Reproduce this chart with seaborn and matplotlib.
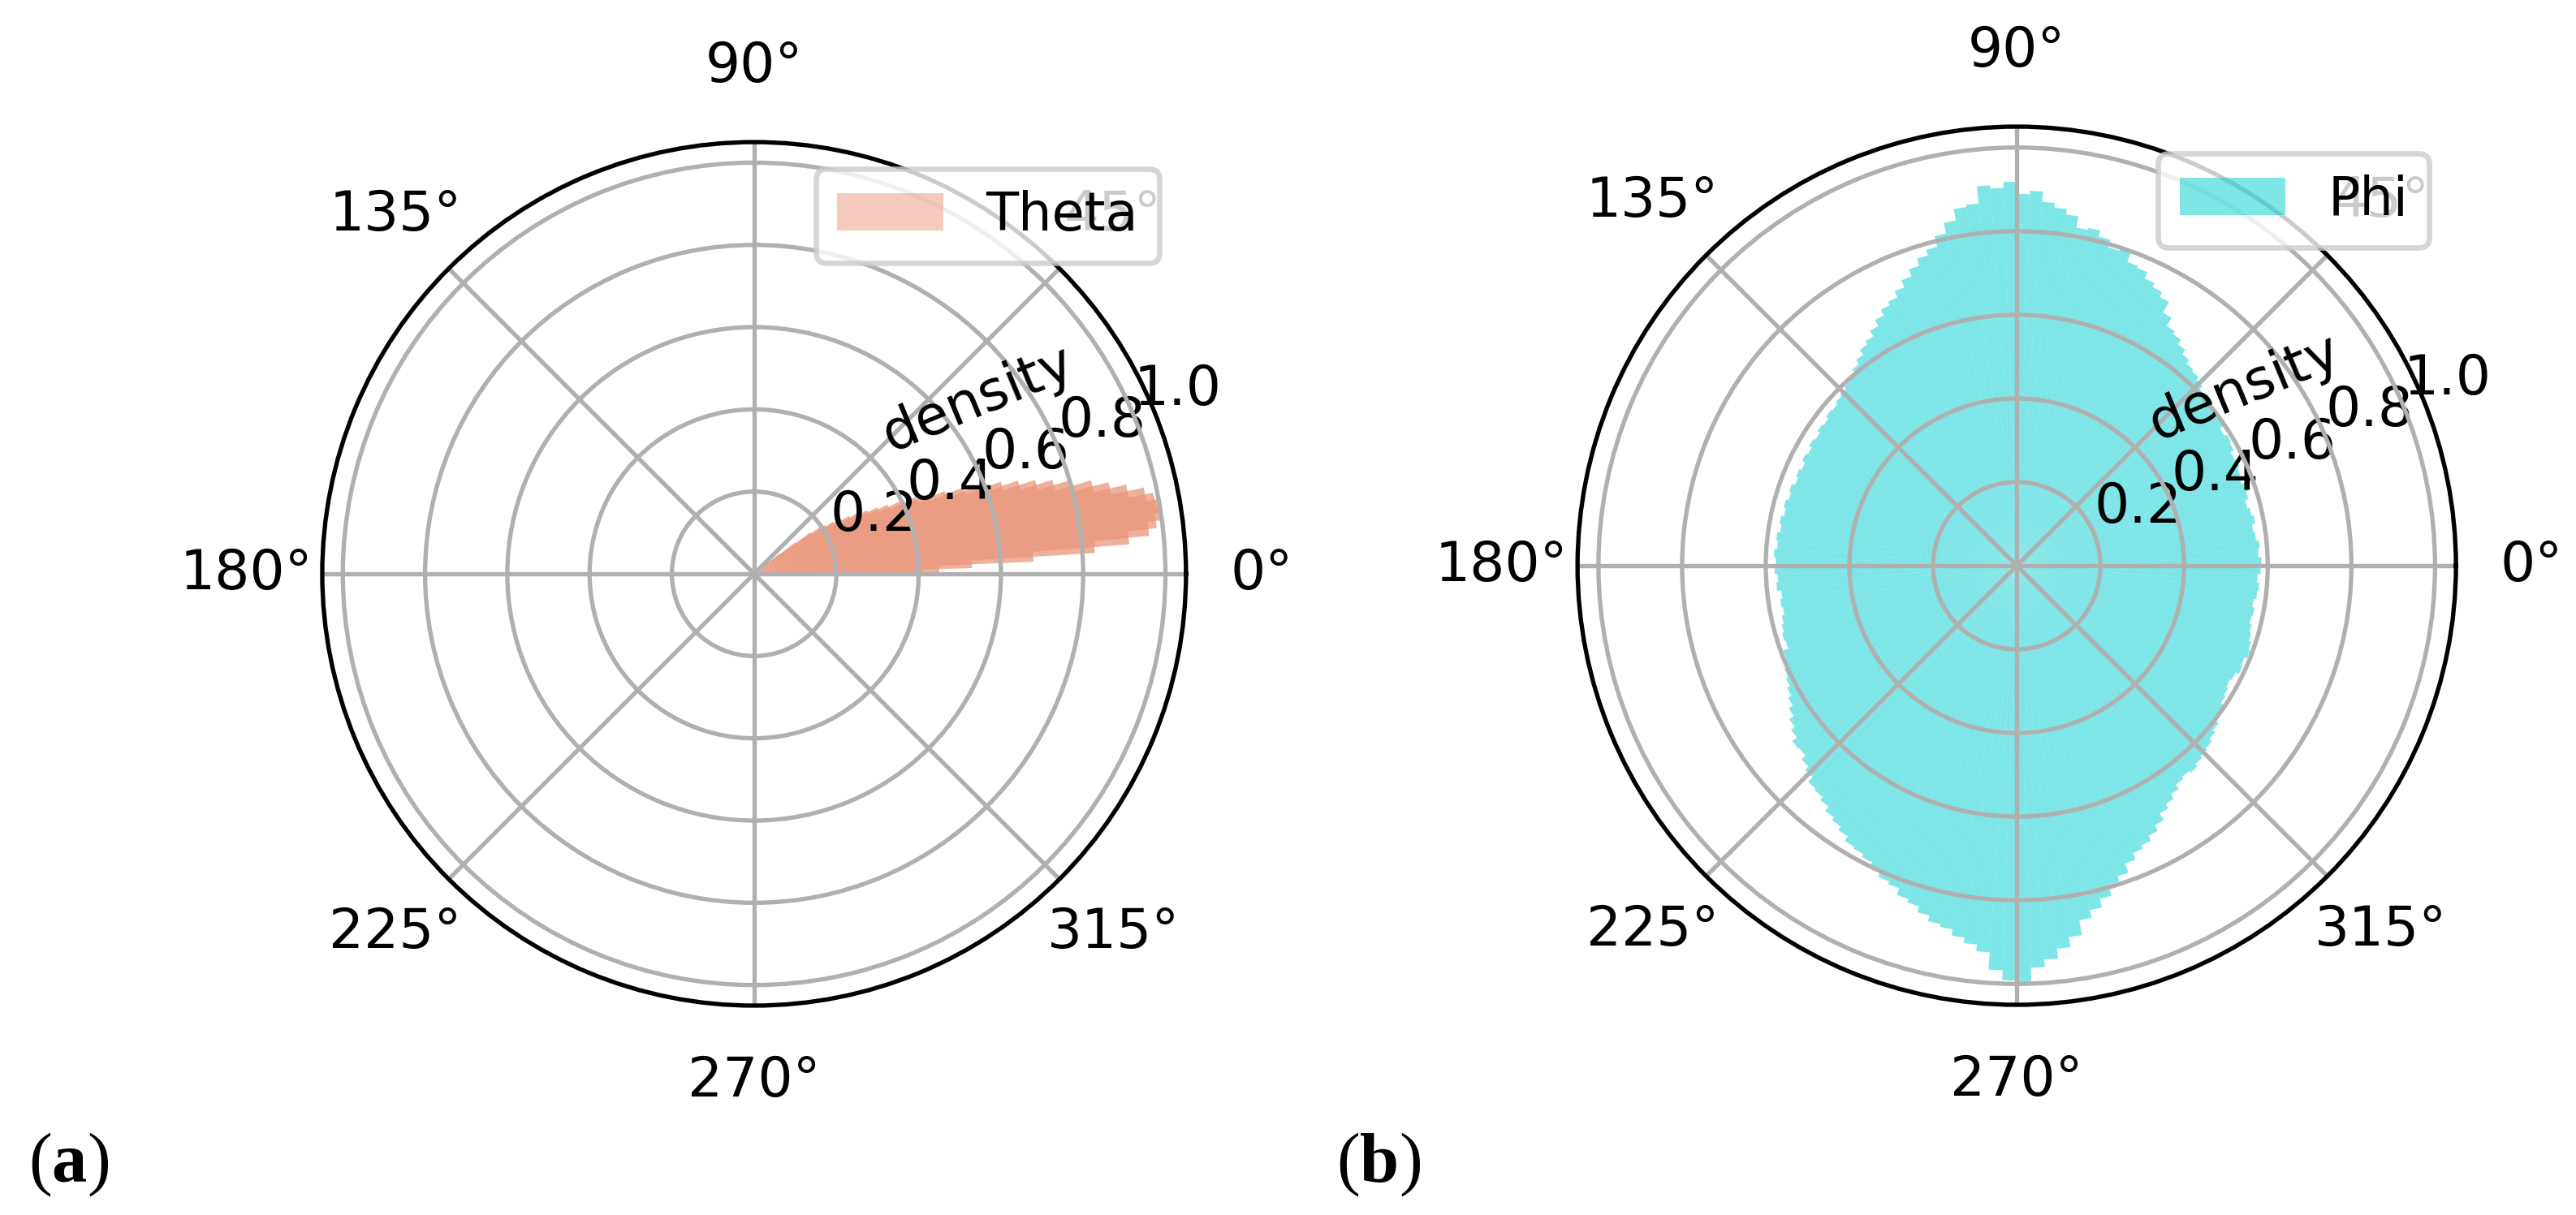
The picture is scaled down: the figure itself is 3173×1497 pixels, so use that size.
import numpy as np
import pandas as pd
import matplotlib
matplotlib.use("Agg")
import matplotlib.pyplot as plt
from matplotlib.patches import Patch
import seaborn as sns

# ----------------------------
# Data
# ----------------------------
# Theta: 1 degree bins starting at 0 deg
theta_left_deg = np.arange(0, 40)
theta_density = [
    0.41, 0.45, 0.53, 0.68, 0.83, 0.915, 0.965, 0.985, 1.00, 1.00,
    0.99, 0.97, 0.93, 0.89, 0.85, 0.805, 0.76, 0.72, 0.68, 0.64,
    0.60, 0.55, 0.505, 0.465, 0.435, 0.40, 0.365, 0.34, 0.315, 0.29,
    0.27, 0.25, 0.23, 0.21, 0.195, 0.17, 0.125, 0.08, 0.045, 0.02,
]

# Phi: 2 degree bins over the full circle
phi_left_deg = np.arange(0, 360, 2)
phi_density = [
    0.585, 0.578, 0.582, 0.575, 0.571, 0.579, 0.574, 0.568, 0.576, 0.581, 0.572, 0.577, 0.583, 0.579, 0.588,
    0.592, 0.586, 0.597, 0.601, 0.598, 0.612, 0.607, 0.618, 0.626, 0.631, 0.642, 0.655, 0.668, 0.676, 0.699,
    0.728, 0.741, 0.752, 0.768, 0.773, 0.797, 0.792, 0.811, 0.826, 0.821, 0.848, 0.861, 0.872, 0.897, 0.889,
    0.918, 0.904, 0.912, 0.871, 0.866, 0.838, 0.812, 0.786, 0.772, 0.754, 0.736, 0.718, 0.702, 0.693, 0.678,
    0.662, 0.647, 0.638, 0.624, 0.612, 0.598, 0.594, 0.587, 0.583, 0.577, 0.579, 0.571, 0.575, 0.568, 0.573,
    0.566, 0.571, 0.563, 0.569, 0.564, 0.572, 0.567, 0.574, 0.569, 0.576, 0.571, 0.578, 0.574, 0.581, 0.576,
    0.579, 0.572, 0.576, 0.566, 0.571, 0.568, 0.574, 0.579, 0.584, 0.581, 0.594, 0.601, 0.608, 0.614, 0.622,
    0.631, 0.643, 0.656, 0.667, 0.681, 0.679, 0.692, 0.703, 0.718, 0.722, 0.731, 0.744, 0.752, 0.763, 0.776,
    0.781, 0.789, 0.802, 0.814, 0.821, 0.838, 0.847, 0.862, 0.876, 0.883, 0.898, 0.911, 0.927, 0.968, 0.992,
    0.998, 0.962, 0.944, 0.921, 0.897, 0.861, 0.842, 0.821, 0.794, 0.781, 0.758, 0.741, 0.732, 0.718, 0.703,
    0.684, 0.672, 0.659, 0.647, 0.641, 0.646, 0.638, 0.633, 0.628, 0.619, 0.612, 0.603, 0.596, 0.588, 0.584,
    0.578, 0.582, 0.591, 0.587, 0.594, 0.589, 0.583, 0.579, 0.574, 0.577, 0.572, 0.578, 0.581, 0.576, 0.583,
]

r_ticks = [0.2, 0.4, 0.6, 0.8, 1.0]
panel_labels = ["a", "b"]

theta_df = pd.DataFrame({"angle": np.deg2rad(theta_left_deg + 0.5), "density": theta_density})
phi_df = pd.DataFrame({"angle": np.deg2rad(phi_left_deg + 1.0), "density": phi_density})

# ----------------------------
# Figure setup
# ----------------------------
plt.rcParams["font.size"] = 10.2
plt.rcParams["mathtext.fontset"] = "custom"
plt.rcParams["mathtext.rm"] = "Liberation Serif"
plt.rcParams["mathtext.bf"] = "Liberation Serif:bold"

dpi = 480
fig = plt.figure(figsize=(3173 / dpi, 1497 / dpi), dpi=dpi)
ax1 = fig.add_axes([0.1251, 0.1723, 0.3353, 0.7108], projection="polar")
ax2 = fig.add_axes([0.6124, 0.1730, 0.3410, 0.7228], projection="polar")

# Theta histogram (bars drawn twice as wide as the bins, so they overlap)
sns.histplot(data=theta_df, x="angle", weights="density",
             binwidth=np.deg2rad(1), binrange=(0, np.deg2rad(40)), shrink=2,
             color="darksalmon", alpha=0.75, edgecolor="none", linewidth=0, ax=ax1)

# Phi histogram
sns.histplot(data=phi_df, x="angle", weights="density",
             binwidth=np.deg2rad(2), binrange=(0, 2 * np.pi),
             color="darkturquoise", alpha=0.5, edgecolor="none", linewidth=0, ax=ax2)

for ax, name, color in [(ax1, "Theta", "darksalmon"), (ax2, "Phi", "darkturquoise")]:
    ax.set_ylim(0, 1.05)
    ax.set_yticks(r_ticks)
    ax.set_xlabel("")
    ax.set_ylabel("")
    ax.grid(True)
    ax.text(np.deg2rad(38), 0.69, "density", rotation=22.5,
            ha="center", va="center")
    ax.legend(handles=[Patch(facecolor=color, alpha=0.5, edgecolor="none", label=name)],
              loc="upper right", fontsize=9.8)

fig.text(0.011, 0.027, r"$(\mathbf{%s})$" % panel_labels[0], fontsize=13)
fig.text(0.5187, 0.027, r"$(\mathbf{%s})$" % panel_labels[1], fontsize=13)

plt.savefig("out.png", dpi=dpi)
